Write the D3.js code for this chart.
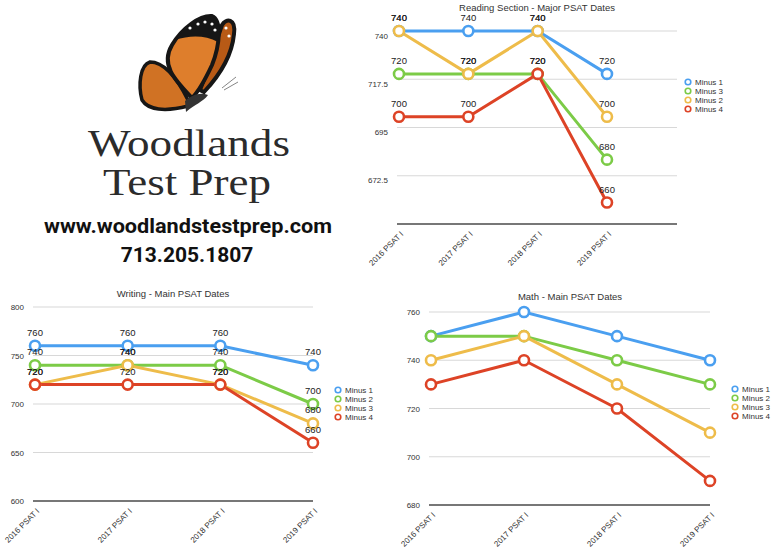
<!DOCTYPE html>
<html><head><meta charset="utf-8">
<script src="https://d3js.org/d3.v7.min.js"></script>
<style>body{margin:0;background:#fff}svg{display:block}</style>
</head><body>
<svg id="c" width="784" height="551"></svg>
<script>
const categories = ["2016 PSAT I","2017 PSAT I","2018 PSAT I","2019 PSAT I"];
const readingNames = ["Minus 1","Minus 3","Minus 2","Minus 4"];
const readingValues = [[740,740,740,720],[720,720,720,680],[740,720,740,700],[700,700,720,660]];
const readingTicks = [650,672.5,695,717.5,740];
const writingNames = ["Minus 1","Minus 2","Minus 3","Minus 4"];
const writingValues = [[760,760,760,740],[740,740,740,700],[720,740,720,680],[720,720,720,660]];
const writingTicks = [600,650,700,750,800];
const mathNames = ["Minus 1","Minus 2","Minus 3","Minus 4"];
const mathValues = [[750,760,750,740],[750,750,740,730],[740,750,730,710],[730,740,720,690]];
const mathTicks = [680,700,720,740,760];
const readingColors = ["#4a9ff0","#7ccb47","#eebc4a","#dd4326"];
const stdColors = ["#4a9ff0","#7ccb47","#eebc4a","#dd4326"];

const svg = d3.select("#c");

function chart(o){
  const g = svg.append("g");
  const x = d3.scalePoint().domain(categories).range([o.x0,o.x1]);
  const y = d3.scaleLinear().domain([o.ticks[0],o.ticks[o.ticks.length-1]]).range([o.yb,o.yt]);
  g.append("text").attr("x",o.tx).attr("y",o.ty).attr("text-anchor","middle")
    .attr("font-family","Liberation Sans, Arial").attr("font-size",9.5).attr("fill","#333").text(o.title);
  o.ticks.forEach((t,i)=>{
    g.append("line").attr("x1",o.x0-2).attr("x2",o.gx1).attr("y1",y(t)).attr("y2",y(t))
      .attr("stroke",i==0?"#777":"#d8d8d8").attr("stroke-width",i==0?2:1.2);
  });
  const ya = g.append("g").attr("transform",`translate(${o.x0-8},0)`)
    .call(d3.axisLeft(y).tickValues(o.hideFirst?o.ticks.slice(1):o.ticks).tickSize(0).tickFormat(d=>d));
  ya.select(".domain").remove();
  ya.selectAll("text").attr("font-family","Liberation Sans, Arial").attr("font-size",8).attr("fill","#333")
    .attr("dy", o.tickDy||"0.32em");
  const xa = g.append("g").attr("transform",`translate(0,${o.yb+4})`)
    .call(d3.axisBottom(x).tickSize(0));
  xa.select(".domain").remove();
  xa.selectAll("text").attr("font-family","Liberation Sans, Arial").attr("font-size",8).attr("fill","#333")
    .attr("text-anchor","end").attr("transform","rotate(-45)").attr("dx","-0.2em").attr("dy","0.6em");
  const line = d3.line().x((d,i)=>x(categories[i])).y(d=>y(d));
  o.values.forEach((s,k)=>{
    g.append("path").datum(s).attr("d",line).attr("fill","none").attr("stroke",o.colors[k]).attr("stroke-width",3);
  });
  o.values.forEach((s,k)=>{
    g.selectAll(null).data(s).join("circle").attr("cx",(d,i)=>x(categories[i])).attr("cy",d=>y(d))
      .attr("r",5).attr("fill","#fff").attr("stroke",o.colors[k]).attr("stroke-width",2.6);
  });
  if(o.labels){
    o.values.forEach((s,k)=>{
      g.selectAll(null).data(s).join("text").attr("x",(d,i)=>x(categories[i])).attr("y",d=>y(d)-10)
        .attr("text-anchor","middle").attr("font-family","Liberation Sans, Arial").attr("font-size",9.5)
        .attr("fill","#222").text(d=>d);
    });
  }
  o.names.forEach((n,k)=>{
    g.append("circle").attr("cx",o.lx).attr("cy",o.ly+k*9).attr("r",2.8).attr("fill","#fff")
      .attr("stroke",o.colors[k]).attr("stroke-width",1.6);
    g.append("text").attr("x",o.lx+7).attr("y",o.ly+k*9+3).attr("font-family","Liberation Sans, Arial")
      .attr("font-size",8).attr("fill","#333").text(n);
  });
}

chart({title:"Reading Section - Major PSAT Dates",tx:537,ty:11,x0:399,x1:607,gx1:677,yb:224,yt:31,hideFirst:true,
  ticks:readingTicks,values:readingValues,names:readingNames,colors:readingColors,labels:true,lx:688,ly:82,tickDy:"0.9em"});
chart({title:"Writing - Main PSAT Dates",tx:173,ty:297,x0:35,x1:313,gx1:313,yb:501,yt:307,
  ticks:writingTicks,values:writingValues,names:writingNames,colors:stdColors,labels:true,lx:338,ly:390});
chart({title:"Math - Main PSAT Dates",tx:570,ty:300,x0:431,x1:710,gx1:710,yb:505,yt:312,
  ticks:mathTicks,values:mathValues,names:mathNames,colors:stdColors,labels:false,lx:735,ly:389});

const lg = svg.append("g");
const bf = lg.append("g");
bf.append("path").attr("d","M200 90 C208 70 215 45 222 25 C226 18 236 18 234 34 C232 55 220 75 204 92 Z").attr("fill","#b85a16").attr("stroke","#161616").attr("stroke-width",4);
bf.append("path").attr("d","M188 100 C178 80 165 62 150 62 C140 65 138 85 142 100 C148 110 165 112 188 106 Z").attr("fill","#d07224").attr("stroke","#161616").attr("stroke-width",3.5);
bf.append("path").attr("d","M192 98 C175 80 160 65 172 45 C182 28 200 15 212 16 C222 20 220 45 212 65 C205 80 198 92 192 98 Z").attr("fill","#de7e2c").attr("stroke","#161616").attr("stroke-width",4);
bf.append("path").attr("d","M175 40 C185 26 200 16 212 16 C220 19 221 30 218 42 C205 35 190 35 175 40 Z").attr("fill","#161616");
bf.selectAll(null).data([[190,28],[198,24],[205,22],[212,24],[215,30],[226,28],[229,36]]).join("circle")
  .attr("cx",d=>d[0]).attr("cy",d=>d[1]).attr("r",1.6).attr("fill","#fff");
bf.append("path").attr("d","M185 101 C192 95 200 92 208 95 C203 102 195 104 186 112 Z").attr("fill","#333");
bf.append("path").attr("d","M222 88 L236 77 M224 90 L238 82").attr("stroke","#666").attr("stroke-width",0.8);
const tf="Liberation Serif, DejaVu Serif, serif";
lg.append("text").attr("x",88).attr("y",156).attr("textLength",202).attr("lengthAdjust","spacingAndGlyphs").attr("font-family",tf).attr("font-size",38).attr("fill","#2b2b2b").text("Woodlands");
lg.append("text").attr("x",103).attr("y",195).attr("textLength",168).attr("lengthAdjust","spacingAndGlyphs").attr("font-family",tf).attr("font-size",38).attr("fill","#2b2b2b").text("Test Prep");
lg.append("text").attr("x",44).attr("y",233).attr("textLength",288).attr("lengthAdjust","spacingAndGlyphs").attr("font-family","Roboto, Liberation Sans").attr("font-weight","bold").attr("font-size",20.5).attr("fill","#111").text("www.woodlandstestprep.com");
lg.append("text").attr("x",187).attr("y",262).attr("text-anchor","middle").attr("font-family","Roboto, Liberation Sans").attr("font-weight","bold").attr("font-size",21).attr("fill","#111").text("713.205.1807");
</script>
</body></html>
